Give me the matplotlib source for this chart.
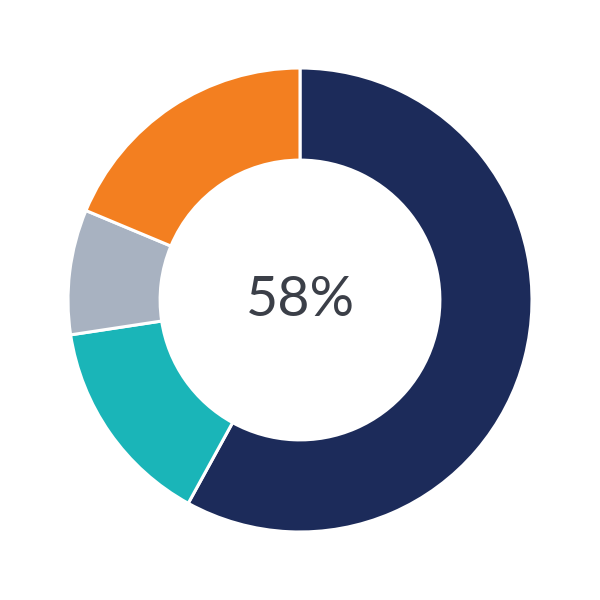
import matplotlib
matplotlib.use("Agg")
import matplotlib.pyplot as plt

labels = ["Navy", "Teal", "Gray", "Orange"]
shares = [58, 14.6, 8.7, 18.7]
colors = ["#1c2b5a", "#1ab5b8", "#a8b2c1", "#f37f20"]
center_text = "58%"

fig = plt.figure(figsize=(6, 6), dpi=100)
ax = fig.add_axes([0, 0, 1, 1])
ax.pie(shares, colors=colors, startangle=90, counterclock=False,
       radius=1.0,
       wedgeprops=dict(width=0.397, edgecolor="white", linewidth=2.2))
lim = 300 / 232
ax.set_xlim(-lim, lim)
ax.set_ylim(-lim, lim)
ax.set_aspect("equal")
ax.axis("off")
ax.text(0, 0, center_text, ha="center", va="center", fontsize=40,
        color="#3b3f48", family=["Lato", "DejaVu Sans"])

fig.savefig("out.png", dpi=100, facecolor="white")
